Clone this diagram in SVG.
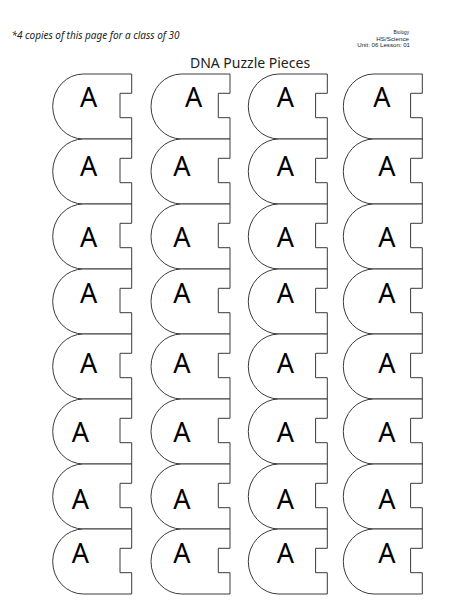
<svg xmlns="http://www.w3.org/2000/svg" xmlns:xlink="http://www.w3.org/1999/xlink" width="474" height="613" viewBox="0 0 474 613">
<style>
.pc{fill:#fff;stroke:#3a3a3a;stroke-width:1}
.lt{font-family:"Noto Sans","DejaVu Sans",sans-serif;font-size:27px;fill:#000}
.hd{font-family:"Noto Sans","DejaVu Sans",sans-serif;fill:#222}
.sm{font-family:"Liberation Sans",Arial,sans-serif;font-size:5.8px;fill:#222;text-anchor:end}
</style>
<defs>
<path id="piece" class="pc" d="M79,0 V19.3 H67.3 V43.7 H79 V65 H30.6 A30.6 32.5 0 0 1 30.6,0 Z"/>
</defs>
<rect width="474" height="613" fill="#fff"/>
<g id="header">
<text class="hd" x="11.5" y="39" font-size="10" font-style="italic" textLength="168" lengthAdjust="spacing">*4 copies of this page for a class of 30</text>
<text class="sm" x="409" y="34" textLength="15.4" lengthAdjust="spacingAndGlyphs">Biology</text>
<text class="sm" x="409" y="40.5" textLength="32.7" lengthAdjust="spacingAndGlyphs">HS/Science</text>
<text class="sm" x="410" y="47" textLength="52.7" lengthAdjust="spacingAndGlyphs">Unit: 06 Lesson: 01</text>
<text class="hd" x="250" y="67.7" font-size="14" text-anchor="middle" fill="#000">DNA Puzzle Pieces</text>
</g>
<g id="r1c1"><use href="#piece" x="52.7" y="74"/><text class="lt" x="80" y="107.3">A</text></g>
<g id="r1c2"><use href="#piece" x="151" y="74"/><text class="lt" x="185" y="107.3">A</text></g>
<g id="r1c3"><use href="#piece" x="248.3" y="74"/><text class="lt" x="276.7" y="107.3">A</text></g>
<g id="r1c4"><use href="#piece" x="343.3" y="74"/><text class="lt" x="373.3" y="107.3">A</text></g>
<g id="r2c1"><use href="#piece" x="52.7" y="139"/><text class="lt" x="80" y="176">A</text></g>
<g id="r2c2"><use href="#piece" x="151" y="139"/><text class="lt" x="173.3" y="176">A</text></g>
<g id="r2c3"><use href="#piece" x="248.3" y="139"/><text class="lt" x="276.7" y="176">A</text></g>
<g id="r2c4"><use href="#piece" x="343.3" y="139"/><text class="lt" x="378.3" y="176">A</text></g>
<g id="r3c1"><use href="#piece" x="52.7" y="204"/><text class="lt" x="80" y="246.7">A</text></g>
<g id="r3c2"><use href="#piece" x="151" y="204"/><text class="lt" x="173.3" y="246.7">A</text></g>
<g id="r3c3"><use href="#piece" x="248.3" y="204"/><text class="lt" x="276.7" y="246.7">A</text></g>
<g id="r3c4"><use href="#piece" x="343.3" y="204"/><text class="lt" x="378.3" y="246.7">A</text></g>
<g id="r4c1"><use href="#piece" x="52.7" y="269"/><text class="lt" x="80" y="302.7">A</text></g>
<g id="r4c2"><use href="#piece" x="151" y="269"/><text class="lt" x="173.3" y="302.7">A</text></g>
<g id="r4c3"><use href="#piece" x="248.3" y="269"/><text class="lt" x="276.7" y="302.7">A</text></g>
<g id="r4c4"><use href="#piece" x="343.3" y="269"/><text class="lt" x="378.3" y="302.7">A</text></g>
<g id="r5c1"><use href="#piece" x="52.7" y="334"/><text class="lt" x="80" y="372.7">A</text></g>
<g id="r5c2"><use href="#piece" x="151" y="334"/><text class="lt" x="173.3" y="372.7">A</text></g>
<g id="r5c3"><use href="#piece" x="248.3" y="334"/><text class="lt" x="276.7" y="372.7">A</text></g>
<g id="r5c4"><use href="#piece" x="343.3" y="334"/><text class="lt" x="378.3" y="372.7">A</text></g>
<g id="r6c1"><use href="#piece" x="52.7" y="399"/><text class="lt" x="71.7" y="442">A</text></g>
<g id="r6c2"><use href="#piece" x="151" y="399"/><text class="lt" x="173.3" y="442">A</text></g>
<g id="r6c3"><use href="#piece" x="248.3" y="399"/><text class="lt" x="276.7" y="442">A</text></g>
<g id="r6c4"><use href="#piece" x="343.3" y="399"/><text class="lt" x="378.3" y="442">A</text></g>
<g id="r7c1"><use href="#piece" x="52.7" y="464"/><text class="lt" x="71.7" y="508.7">A</text></g>
<g id="r7c2"><use href="#piece" x="151" y="464"/><text class="lt" x="173.3" y="508.7">A</text></g>
<g id="r7c3"><use href="#piece" x="248.3" y="464"/><text class="lt" x="276.7" y="508.7">A</text></g>
<g id="r7c4"><use href="#piece" x="343.3" y="464"/><text class="lt" x="378.3" y="508.7">A</text></g>
<g id="r8c1"><use href="#piece" x="52.7" y="529"/><text class="lt" x="71.7" y="562.7">A</text></g>
<g id="r8c2"><use href="#piece" x="151" y="529"/><text class="lt" x="173.3" y="562.7">A</text></g>
<g id="r8c3"><use href="#piece" x="248.3" y="529"/><text class="lt" x="276.7" y="562.7">A</text></g>
<g id="r8c4"><use href="#piece" x="343.3" y="529"/><text class="lt" x="378.3" y="562.7">A</text></g>
</svg>
